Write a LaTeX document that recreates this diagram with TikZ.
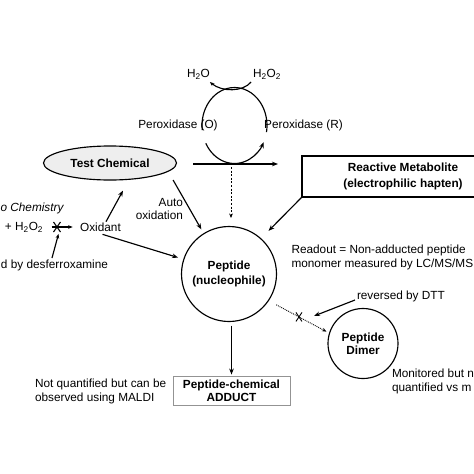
\documentclass[tikz,border=0pt]{standalone}
\usepackage{fontspec}
\setmainfont{Liberation Sans}
\usetikzlibrary{arrows.meta,calc,shapes.geometric}
\begin{document}
\begin{tikzpicture}[x=1pt,y=-1pt,
  basefont/.style={font=\fontsize{11.8}{14}\selectfont},
  boldfont/.style={font=\fontsize{11.8}{14.5}\selectfont\bfseries},
  basefont,
  line width=1.15pt,
  arr/.style={-{Stealth[length=6pt,width=4.6pt]}},
  smallarr/.style={-{Stealth[length=4.5pt,width=3.6pt]}},
  txt/.style={inner sep=0pt, outer sep=0pt, align=center},
  xmark/.style={line width=1.1pt}
]
\fill[white] (0,0) rectangle (474,474);
\useasboundingbox (0,0) rectangle (474,474);
\clip (0,0) rectangle (474,474);

% main nodes
\node[ellipse, draw, fill=gray!13, minimum width=133pt, minimum height=34pt, inner sep=0pt, boldfont] (tc) at (110,163) {Test Chemical};
\node[circle, draw, minimum size=95pt, txt, boldfont] (pep) at (229,274) {Peptide\\(nucleophile)};
\node[circle, draw, minimum size=70pt, txt, font=\fontsize{11.8}{13}\selectfont\bfseries] (dim) at (363,343.5) {Peptide\\Dimer};
\node[draw, minimum width=202pt, minimum height=41pt, inner sep=0pt, align=center, font=\fontsize{11.8}{16}\selectfont\bfseries] (rm) at (403,176.5) {Reactive Metabolite\\(electrophilic hapten)};
\node[draw=gray!85, line width=0.9pt, minimum width=117pt, minimum height=29pt, inner sep=0pt, align=center, font=\fontsize{11.8}{13}\selectfont\bfseries] (add) at (231.5,390.5) {Peptide-chemical\\ADDUCT};

% peroxidase cycle
\coordinate (cyc) at (234.5,125.5);
\node[txt] (h2o) at (198.5,74) {H\textsubscript{2}O};
\node[txt] (hh) at (267,74) {H\textsubscript{2}O\textsubscript{2}};
\node[txt] (po) at (178,125) {Peroxidase (O)};
\node[txt] (pr) at (303.5,125) {Peroxidase (R)};
\draw ($(cyc)+(173:32.5 and 38)$) arc[start angle=173, end angle=370, x radius=32.5, y radius=38];
\draw[arr] ($(cyc)+(152:32.5 and 38)$) arc[start angle=152, end angle=26, x radius=32.5, y radius=38];
\draw[smallarr] ([shift={(-2,3)}]hh.south west) .. controls +(-8,10) and +(12,10) .. ([shift={(0,3)}]h2o.south east);
\coordinate (hl) at (193,164);
\coordinate (hr) at (278,164);
\draw[arr, line width=1.6pt] (hl) -- (hr);
\coordinate (cycb) at (231,167);
\draw[smallarr, line width=0.6pt, dash pattern=on 2pt off 1.6pt, shorten >=8.5pt] (cycb) -- (cycb |- pep.north);

% left chemistry
\node[txt, anchor=east] (chem) at (63.5,208) {\itshape o Chemistry};
\node[txt, anchor=west] (hp) at (5,227) {+ H\textsubscript{2}O\textsubscript{2}};
\node[txt] (ox) at (100.5,227) {Oxidant};
\node[txt, anchor=west] (desf) at (1,265) {d by desferroxamine};
\coordinate (xm) at (57,227);
\draw[smallarr] ([xshift=8.5pt]hp.east) -- ([xshift=-7.5pt]ox.west);
\draw[xmark] ($(xm)+(-3.5,-5)$) -- ($(xm)+(3.5,5)$) ($(xm)+(-3.5,5)$) -- ($(xm)+(3.5,-5)$);
\draw[smallarr] ([shift={(51,-7)}]desf.west) -- ([shift={(1.5,7)}]xm);
\draw[arr] ([shift={(5.5,-1)}]ox.north) -- ([shift={(13,10)}]tc.south);
\draw[arr, shorten >=6pt] ([shift={(2,3)}]ox.south) -- (pep.162);

% arrows into peptide
\node[txt, anchor=east, align=right, font=\fontsize{11.8}{13}\selectfont] (auto) at (183,208.5) {Auto\\oxidation};
\draw[arr, shorten >=5pt] ([shift={(-4,17)}]tc.east) -- (pep.122);
\draw[arr, shorten >=11pt] (rm.south west) -- (pep.48);
\draw[arr, shorten <=4pt, shorten >=1pt] (pep.south -| add.north) -- (add.north);

% dimer side
\node[txt, anchor=west, align=left] (ro) at (291.5,257) {Readout = Non-adducted peptide\\monomer measured by LC/MS/MS};
\node[txt, anchor=west] (dtt) at (357,296) {reversed by DTT};
\coordinate (dttend) at (314,316);
\draw[arr] ([shift={(-2,4)}]dtt.west) -- (dttend);
\draw[smallarr, densely dotted, line width=0.9pt, shorten <=9pt, shorten >=3.5pt] (pep.-34) -- (dim.163);
\coordinate (dx) at ($(pep.-34)!0.5!(dim.163)$);
\draw[line width=0.9pt] ($(dx)+(-3,-4.5)$) -- ($(dx)+(3,4.5)$) ($(dx)+(-3,4.5)$) -- ($(dx)+(3,-4.5)$);
\node[txt, anchor=west, align=left] (mon) at (392,381) {Monitored but n\\quantified vs m};
\node[txt, anchor=west, align=left] (nq) at (35,391) {Not quantified but can be\\observed using MALDI};
\end{tikzpicture}
\end{document}
